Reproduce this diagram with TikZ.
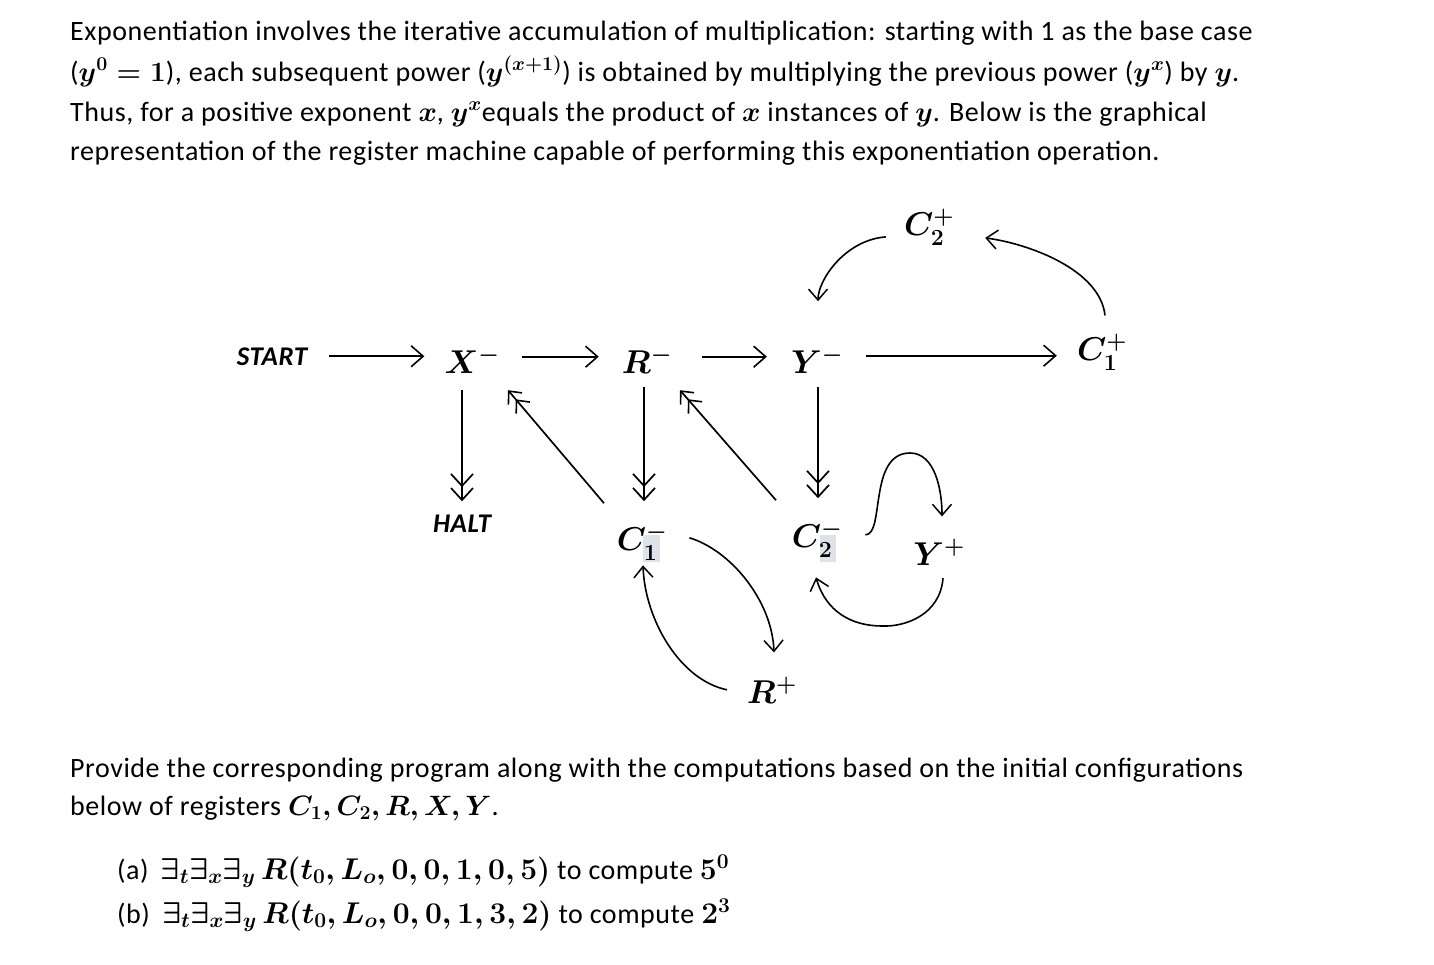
\RequirePackage{fix-cm}
\documentclass[tikz,border=0pt]{standalone}
\usepackage{fontspec}
\setmainfont{Carlito}[LetterSpace=2]
\usetikzlibrary{arrows.meta,calc}
\definecolor{hlgray}{RGB}{221,226,235}
\begin{document}
\begin{tikzpicture}[x=1pt,y=-1pt,
  txt/.style={anchor=base west,inner sep=0pt,font=\fontsize{28}{34}\selectfont},
  mth/.style={anchor=base,inner sep=0pt,font=\fontsize{33}{38}\selectfont\boldmath},
  lbl/.style={anchor=base,inner sep=0pt,font=\fontsize{27}{32}\selectfont\bfseries\itshape},
  arr/.style={line width=1.7pt,-{Straight Barb[length=12pt,width=21pt,line width=1.6pt]}},
  carr/.style={line width=1.6pt,-{Straight Barb[length=11pt,width=19pt,line width=1.5pt]}},
  darr/.style={line width=1.7pt,-{Straight Barb[length=12pt,width=22pt,line width=1.7pt,sep=0pt]Straight Barb[length=12pt,width=22pt,line width=1.7pt]}},
  ddarr/.style={line width=1.7pt,-{Straight Barb[length=10pt,width=18pt,line width=1.6pt,sep=0pt]Straight Barb[length=10pt,width=18pt,line width=1.6pt]}},
  hl/.style={fill=hlgray,draw=none}]
\useasboundingbox (0,0) rectangle (1434,964);
% top paragraph
\node[txt] (p1) at (70,40) {Exponentiation involves the iterative accumulation of multiplication: starting with 1 as the base case};
\node[txt] (p2) at (70,81) {({\boldmath$y^{\mathbf{0}}=\mathbf{1}$}), each subsequent power ({\boldmath$y^{(x+\mathbf{1})}$}) is obtained by multiplying the previous power ({\boldmath$y^{x}$}) by {\boldmath$y$}.};
\node[txt] (p3) at (70,121) {Thus, for a positive exponent {\boldmath$x$}, {\boldmath$y^{x}$}equals the product of {\boldmath$x$} instances of {\boldmath$y$}. Below is the graphical};
\node[txt] (p4) at (70,160) {representation of the register machine capable of performing this exponentiation operation.};
% highlights behind subscripts
\fill[hl] (643,535) rectangle (660,562);
\fill[hl] (820,535) rectangle (836,562);
% diagram nodes
\node[lbl] (S) at (272,365) {START};
\node[mth] (X) at (472,373) {$X^{-}$};
\node[mth] (R) at (647,373) {$R^{-}$};
\node[mth] (Y) at (817,373) {$Y^{-}$};
\node[mth] (C1p) at (1102,360) {$C_{1}^{+}$};
\node[mth] (C2p) at (929,235) {$C_{2}^{+}$};
\node[lbl] (H) at (462,532) {HALT};
\node[mth] (C1m) at (642,550) {$C_{1}^{-}$};
\node[mth] (C2m) at (817,547) {$C_{2}^{-}$};
\node[mth] (Yp) at (939,565) {$Y^{+}$};
\node[mth] (Rp) at (772,703) {$R^{+}$};
% horizontal arrows
\draw[arr] ($(S.east)+(22,0)$) -- ($(S.east -| X.west)+(-20,0)$);
\draw[arr] ($(X.east)+(22,-3)$) -- ($(X.east -| R.west)+(-23,-3)$);
\draw[arr] ($(R.east)+(30,-3)$) -- ($(R.east -| Y.west)+(-24,-3)$);
\draw[arr] ($(Y.east)+(23,-4)$) -- ($(Y.east -| C1p.west)+(-20,-4)$);
% vertical double arrows
\draw[darr] ($(H.north |- X.south)+(0,17)$) -- ($(H.north)+(0,-13)$);
\draw[darr] ($(R.south)+(-3,14)$) -- ($(R.south |- C1m.north)+(-3,-22)$);
\draw[darr] ($(Y.south)+(1,14)$) -- ($(Y.south |- C2m.north)+(1,-22)$);
% diagonal double arrows
\draw[ddarr] ($(C1m.north)+(-38,-20)$) -- ($(X.south)+(36,17)$);
\draw[ddarr] ($(C2m.north)+(-41,-20)$) -- ($(R.south)+(33,17)$);
% curved arrows
\draw[carr] ($(C1p.north)+(3,-18)$) .. controls (1100,270) and (1030,244) .. ($(C2p.east)+(31,11)$);
\draw[carr] ($(C2p.west)+(-18,10)$) .. controls (845,240) and (818,280) .. ($(Y.north)+(1,-45)$);
\draw[carr] ($(C2m.east)+(23,-4)$) .. controls (885,535) and (868,453) .. (910,453) .. controls (935,453) and (942,490) .. ($(Yp.north)+(3,-22)$);
\draw[carr] ($(Yp.south)+(4,13)$) .. controls (940,615) and (905,627) .. (882,626) .. controls (852,626) and (826,612) .. ($(C2m.south)+(-1,20)$);
\draw[carr] ($(C1m.east)+(22,-4)$) .. controls (730,550) and (772,600) .. ($(Rp.north)+(2,-24)$);
\draw[carr] ($(Rp.west)+(-20,0)$) .. controls (680,680) and (645,620) .. ($(C1m.south)+(1,5)$);
% bottom text
\node[txt] (q1) at (70,777) {Provide the corresponding program along with the computations based on the initial configurations};
\node[txt] (q2) at (70,815) {below of registers {\boldmath$C_1,C_2,R,X,Y$}.};
\node[txt] (qa) at (117,879) {(a)\hspace{12pt}{\fontsize{30}{34}\selectfont\boldmath$\exists_t\exists_x\exists_y\,R(t_{\mathbf{0}},L_o,\mathbf{0},\mathbf{0},\mathbf{1},\mathbf{0},\mathbf{5})$} to compute {\fontsize{30}{34}\selectfont\boldmath$\mathbf{5}^{\mathbf{0}}$}};
\node[txt] (qb) at (117,923) {(b)\hspace{12pt}{\fontsize{30}{34}\selectfont\boldmath$\exists_t\exists_x\exists_y\,R(t_{\mathbf{0}},L_o,\mathbf{0},\mathbf{0},\mathbf{1},\mathbf{3},\mathbf{2})$} to compute {\fontsize{30}{34}\selectfont\boldmath$\mathbf{2}^{\mathbf{3}}$}};
\end{tikzpicture}
\end{document}
